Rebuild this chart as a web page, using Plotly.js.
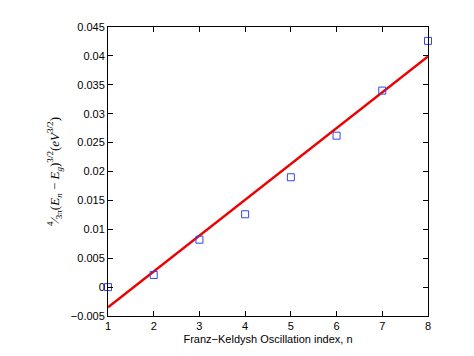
<!DOCTYPE html>
<html>
<head>
<meta charset="utf-8">
<script src="https://cdn.plot.ly/plotly-3.0.1.min.js"></script>
<style>html,body{margin:0;padding:0;background:#fff;}#chart{width:474px;height:356px;}</style>
</head>
<body>
<div id="chart"></div>
<script>
const nIndex = [1, 2, 3, 4, 5, 6, 7, 8];
const measured = [0.0000, 0.0021, 0.0082, 0.0126, 0.0190, 0.0262, 0.0340, 0.0426];
const fitN = [1, 8];
const fitValues = [-0.0035, 0.0399];
const yTickVals = [-0.005, 0, 0.005, 0.01, 0.015, 0.02, 0.025, 0.03, 0.035, 0.04, 0.045];
const yTickText = ['\u22120.005', '0', '0.005', '0.01', '0.015', '0.02', '0.025', '0.03', '0.035', '0.04', '0.045'];

const font = {family: 'Liberation Sans, Arial, sans-serif', size: 11, color: '#000'};

const traces = [
  {x: fitN, y: fitValues, mode: 'lines', line: {color: '#ee0000', width: 2.5}, hoverinfo: 'skip'},
  {x: nIndex, y: measured, mode: 'markers', cliponaxis: false,
   marker: {symbol: 'square-open', size: 7, color: '#3344ee', line: {width: 1, color: '#3344ee'}}}
];

const layout = {
  width: 474, height: 356,
  margin: {l: 108, r: 46, t: 27, b: 40},
  showlegend: false,
  paper_bgcolor: '#fff', plot_bgcolor: '#fff',
  font: font,
  xaxis: {
    range: [1, 8], tickvals: nIndex, ticks: 'inside', ticklen: 5, tickcolor: '#000',
    showline: true, linecolor: '#000', linewidth: 1, mirror: 'ticks', showgrid: false, zeroline: false,
    tickfont: font,
    title: {text: 'Franz\u2212Keldysh Oscillation index, n', font: font, standoff: 4}
  },
  yaxis: {
    range: [-0.005, 0.045], tickvals: yTickVals, ticktext: yTickText, ticks: 'inside', ticklen: 5, tickcolor: '#000',
    showline: true, linecolor: '#000', linewidth: 1, mirror: 'ticks', showgrid: false, zeroline: false,
    tickfont: font,
    title: {text: '<sup>4</sup>\u2044<sub>3\u03C0</sub>(<i>E<sub>n</sub></i> \u2212 <i>E<sub>g</sub></i>)<sup>3/2</sup>(<i>eV</i><sup>3/2</sup>)',
            font: {family: 'Liberation Serif, Times New Roman, serif', size: 13, color: '#000'}, standoff: 8}
  }
};

Plotly.newPlot('chart', traces, layout, {displayModeBar: false, staticPlot: true});
</script>
</body>
</html>
